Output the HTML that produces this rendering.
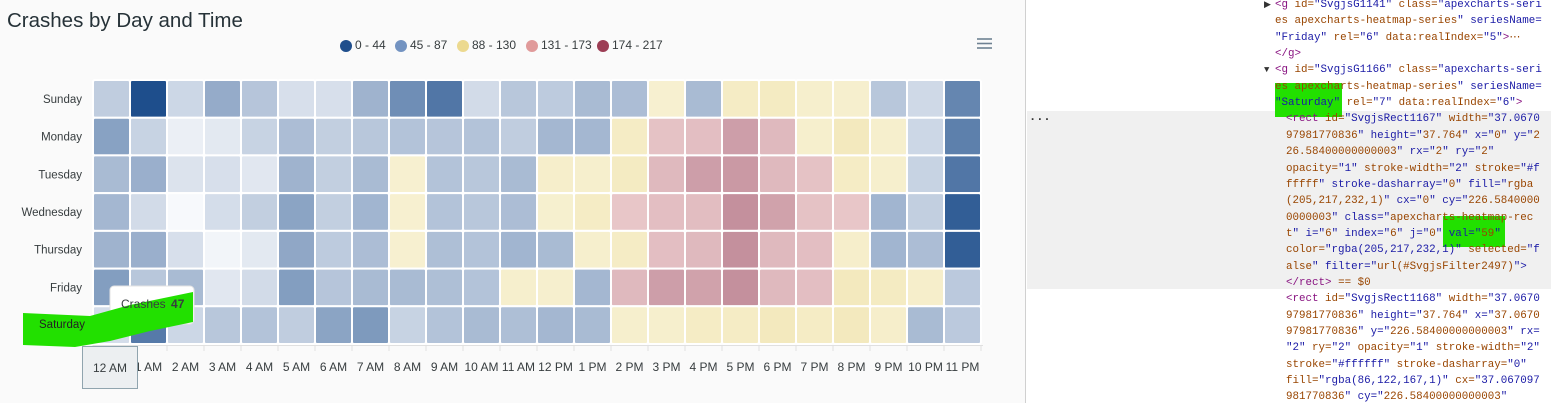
<!DOCTYPE html>
<html><head><meta charset="utf-8">
<style>
html,body{margin:0;padding:0;width:1551px;height:403px;overflow:hidden;background:#fff;font-family:"Liberation Sans",sans-serif}
#left{position:absolute;left:0;top:0;width:1025px;height:403px;background:#fafafa}
#sep{position:absolute;left:1025px;top:0;width:1px;height:403px;background:#d0d0d0}
#dev{position:absolute;left:1026px;top:0;width:525px;height:403px;background:#fff;font-family:"Liberation Mono",monospace;font-size:10.85px}
.ln{position:absolute;white-space:pre;color:#994500;line-height:16px}
.q{color:#1a1aa6}.t{color:#881280}
</style></head><body>
<div id="left">
<svg id="chart" width="1025" height="403">
<text x="7" y="27" font-size="20.5" fill="#263238" font-family="Liberation Sans, sans-serif">Crashes by Day and Time</text>
<g id="legend"></g>
<g stroke="#6e8192" stroke-width="1.6"><line x1="977" y1="39" x2="992" y2="39"/><line x1="977" y1="43.5" x2="992" y2="43.5"/><line x1="977" y1="48" x2="992" y2="48"/></g>
<g id="cells"></g>
<g id="ylab"></g>
<g id="xax"></g>
<rect x="110" y="286" width="84" height="38" rx="4" fill="#fff" stroke="#e3e3e3"/>
<polygon points="23,313 90,316 130,305 193,292 193,322 150,331 110,341 75,347 23,345" fill="#22e000"/>
<text x="121" y="308" font-size="12" fill="#373d3f">Crashes <tspan font-weight="bold" dx="2">47</tspan></text>
<text x="39" y="328" font-size="11.5" fill="#222">Saturday</text>
<rect x="82.5" y="346.5" width="55" height="42" fill="#eceff1" stroke="#90a4ae"/>
<text x="110" y="372" font-size="12" fill="#373d3f" text-anchor="middle">12 AM</text>
</svg>
</div>
<div id="sep"></div>
<div id="dev">
<div style="position:absolute;left:1px;top:111px;width:524px;height:178px;background:#f0f0f0"></div>
<div style="position:absolute;left:249px;top:83px;width:67px;height:34px;background:#22e000"></div>
<div style="position:absolute;left:417px;top:216px;width:62px;height:31px;background:#22e000"></div>
<div style="position:absolute;left:3px;top:110px;color:#333;font-size:12px;font-weight:bold">...</div>
<div id="code"></div>
</div>
<script>
const days=["Sunday","Monday","Tuesday","Wednesday","Thursday","Friday","Saturday"];
const hours=["12 AM","1 AM","2 AM","3 AM","4 AM","5 AM","6 AM","7 AM","8 AM","9 AM","10 AM","11 AM","12 PM","1 PM","2 PM","3 PM","4 PM","5 PM","6 PM","7 PM","8 PM","9 PM","10 PM","11 PM"];
const sunday=[64,0,69,47,60,73,73,51,32,20,71,61,63,55,56,95,55,105,108,98,97,61,70,28];
const monday=[42,67,81,78,67,56,65,61,59,60,59,64,53,53,105,140,142,160,145,98,112,98,69,25];
const tuesday=[55,49,75,73,77,51,65,55,95,59,61,55,100,98,108,145,160,163,145,140,105,98,67,20];
const wednesday=[53,71,86,72,65,43,65,52,95,59,61,56,96,105,138,142,143,168,158,140,138,52,65,8];
const thursday=[51,49,73,84,78,45,63,56,95,57,59,52,55,98,105,142,145,168,145,142,100,52,56,8];
const friday=[40,61,55,77,71,40,60,55,55,57,59,98,97,53,145,160,158,168,145,142,112,108,100,62];
const saturday=[72,22,69,61,59,64,43,38,67,59,55,57,53,55,98,98,105,105,112,105,112,100,55,62];
const legendLabels=["0 - 44","45 - 87","88 - 130","131 - 173","174 - 217"];
const legendColors=["#1f4e8c","#7393c1","#ecd98f","#e09a9a","#9c3d54"];
const series=[sunday,monday,tuesday,wednesday,thursday,friday,saturday];

const NS="http://www.w3.org/2000/svg";
const X0=93,X1=981,Y0=80,Y1=344;
const cw=(X1-X0)/hours.length, ch=(Y1-Y0)/days.length;
function xs(i){return X0+i*cw;}
function ys(j){return Y0+j*ch;}
function mix(a,b,t){t=Math.max(0,Math.min(1,t));return "rgb("+a.map((v,i)=>Math.round(v+(b[i]-v)*t)).join(",")+")";}
function color(v){
  if(v<=87)return mix([30,78,140],[250,251,253],v/87);
  if(v<=130)return mix([248,243,216],[240,226,170],(v-88)/42);
  if(v<=173)return mix([240,210,210],[190,135,150],(v-131)/42);
  return mix([170,80,100],[140,50,75],(v-174)/43);
}
function el(tag,attrs,parent){const e=document.createElementNS(NS,tag);for(const k in attrs)e.setAttribute(k,attrs[k]);parent.appendChild(e);return e;}

const cells=document.getElementById('cells');
series.forEach((row,j)=>{row.forEach((v,i)=>{
  const r=el('rect',{x:xs(i),y:ys(j),width:cw,height:ch,rx:2,fill:color(v),stroke:'#ffffff','stroke-width':2},cells);
  
  
});});

const ylab=document.getElementById('ylab');
days.forEach((d,j)=>{
  if(j===6)return;
  const t=el('text',{x:82,y:ys(j)+ch/2+4,'font-size':11.5,fill:'#373d3f','text-anchor':'end'},ylab);
  t.textContent=d;
  
  
});

const xax=document.getElementById('xax');
const axl=el('line',{x1:X0,y1:Y1+1.5,x2:X1+2,y2:Y1+1.5,stroke:'#e0e0e0','stroke-width':1},xax);


for(let i=0;i<=hours.length;i++){
  const tk=el('line',{x1:xs(i),y1:Y1+1,x2:xs(i),y2:Y1+7,stroke:'#e0e0e0'},xax);
  
  
}
hours.forEach((h,i)=>{
  if(i===0)return;
  const t=el('text',{x:xs(i)+cw/2,y:371,'font-size':12,fill:'#373d3f','text-anchor':'middle'},xax);
  t.textContent=h;
  
  
});

const lg=document.getElementById('legend');
const lx=[346,401,463,532,603];
legendLabels.forEach((l,i)=>{
  const c=el('circle',{cx:lx[i],cy:46,r:6,fill:legendColors[i]},lg);
  
  
  const t=el('text',{x:lx[i]+9,y:49,'font-size':12,fill:'#373d3f'},lg);
  t.textContent=l;
  
  
});

const lines=[
[249,'<g id="SvgjsG1141" class="apexcharts-seri'],
[249,'es apexcharts-heatmap-series" seriesName='],
[249,'"Friday" rel="6" data:realIndex="5">\u22ef'],
[249,'</g>'],
[249,'<g id="SvgjsG1166" class="apexcharts-seri'],
[249,'es apexcharts-heatmap-series" seriesName='],
[249,'"Saturday" rel="7" data:realIndex="6">'],
[260,'<rect id="SvgjsRect1167" width="37.0670'],
[260,'97981770836" height="37.764" x="0" y="2'],
[260,'26.58400000000003" rx="2" ry="2"'],
[260,'opacity="1" stroke-width="2" stroke="#f'],
[260,'fffff" stroke-dasharray="0" fill="rgba'],
[260,'(205,217,232,1)" cx="0" cy="226.5840000'],
[260,'0000003" class="apexcharts-heatmap-rec'],
[260,'t" i="6" index="6" j="0" val="59"'],
[260,'color="rgba(205,217,232,1)" selected="f'],
[260,'alse" filter="url(#SvgjsFilter2497)">'],
[260,'</rect> == $0'],
[260,'<rect id="SvgjsRect1168" width="37.0670'],
[260,'97981770836" height="37.764" x="37.0670'],
[260,'97981770836" y="226.58400000000003" rx='],
[260,'"2" ry="2" opacity="1" stroke-width="2"'],
[260,'stroke="#ffffff" stroke-dasharray="0"'],
[260,'fill="rgba(86,122,167,1)" cx="37.067097'],
[260,'981770836" cy="226.58400000000003"']
];
function esc(s){return s.replace(/&/g,'&amp;').replace(/</g,'&lt;').replace(/>/g,'&gt;');}
function colorize(s){
  let out='',i=0;
  while(i<s.length){
    if(s[i]=='"'){let j=s.indexOf('"',i+1);if(j<0)j=s.length-1;out+='<span class="q">'+esc(s.slice(i,j+1))+'</span>';i=j+1;}
    else if(s[i]=='<'){let m=s.slice(i).match(/^<\/?[a-z]+>?/);out+='<span class="t">'+esc(m[0])+'</span>';i+=m[0].length;}
    else if(s[i]=='>'){out+='<span class="t">&gt;</span>';i++;}
    else{out+=esc(s[i]);i++;}
  }
  return out;
}
const code=document.getElementById('code');
lines.forEach((l,k)=>{
  const d=document.createElement('div');
  d.className='ln';
  d.style.left=l[0]+'px';
  d.style.top=(k*16.35-3)+'px';
  d.innerHTML=colorize(l[1]);
  
  
  code.appendChild(d);
});
[[0,'\u25b6'],[4,'\u25bc']].forEach(a=>{
  const d=document.createElement('div');
  d.className='ln';
  d.style.left='238px';d.style.top=(a[0]*16.35-3)+'px';d.style.color='#333';d.style.fontSize='9px';
  d.textContent=a[1];
  
  
  code.appendChild(d);
});
</script>
</body></html>
